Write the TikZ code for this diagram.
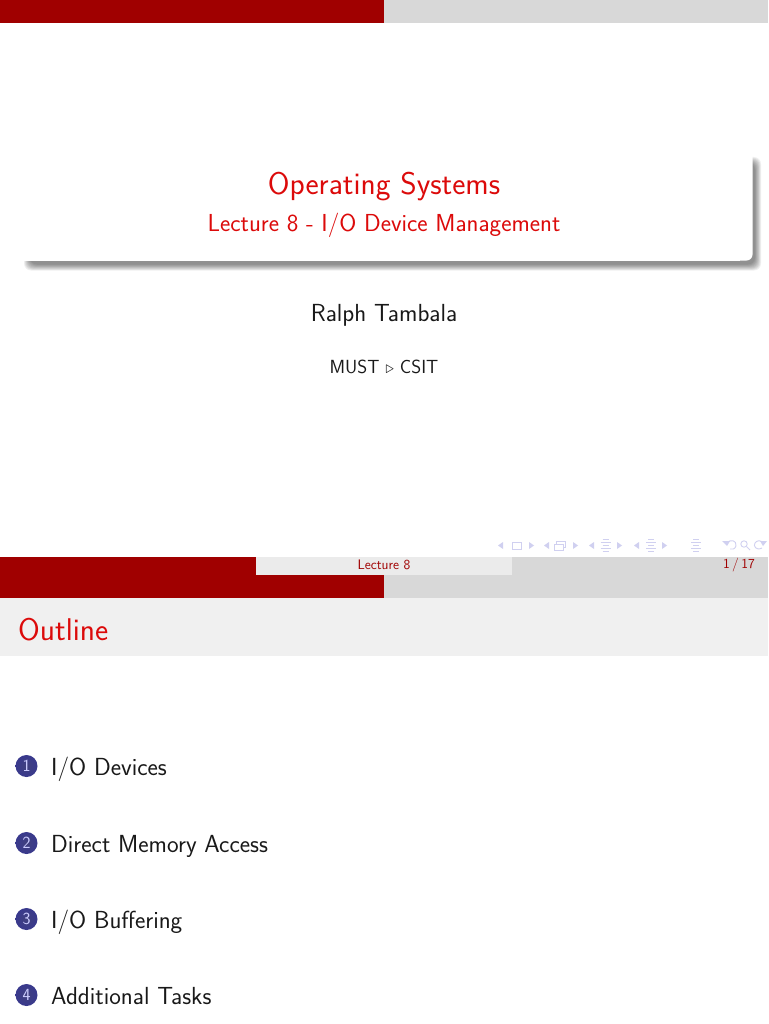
\documentclass[tikz,border=0pt]{standalone}
\usepackage{fontspec}
\definecolor{barred}{HTML}{A00000}
\definecolor{bargray}{HTML}{D8D8D8}
\definecolor{barlight}{HTML}{EBEBEB}
\definecolor{titlegray}{HTML}{F0F0F0}
\definecolor{titlered}{HTML}{DC0A0A}
\definecolor{navc}{HTML}{D0D0F0}
\newcommand{\fs}[1]{\fontsize{#1}{#1}\selectfont\sffamily}
\newcommand{\lines}[2]{%
 \foreach \d/\w in {-6/3,-3/5,0/3,3/5,6/3}{\draw[navc,line width=.9] (#1-\w,#2+\d) -- (#1+\w,#2+\d);}}
\pgfdeclareradialshading{tocball}{\pgfpoint{0bp}{0bp}}{
  color(0bp)=(rgb:red,0.40;green,0.40;blue,0.78);
  color(18bp)=(rgb:red,0.30;green,0.30;blue,0.70);
  color(36bp)=(rgb:red,0.19;green,0.19;blue,0.52);
  color(50bp)=(rgb:red,0.12;green,0.12;blue,0.36);
  color(100bp)=(rgb:red,0.12;green,0.12;blue,0.36)}
\tikzset{
 x=1pt,y=-1pt,
 toc/.style={anchor=base west,inner sep=0pt,text=black!90,font=\fs{24.7}},
 numball/.style={circle,minimum size=22pt,inner sep=0pt,text=white!80!blue,font=\fs{17},
   shading=tocball},
 navline/.style={navc,line width=.9},
}
\begin{document}
\begin{tikzpicture}
\useasboundingbox (0,0) rectangle (768,1024);
\fill[white] (0,0) rectangle (768,1024);
% top bar
\fill[barred] (0,0) rectangle (384,23);
\fill[bargray] (384,0) rectangle (768,23);
% title block shadow
\foreach \o in {6,5.25,4.5,3.75,3,2.25,1.5,0.75,0}{
  \fill[black,opacity=.06,rounded corners=7] (30-\o,163-\o) rectangle (755+\o,264.5+\o);}
\fill[white,rounded corners=6] (0,140) rectangle (752.5,260.5);
\fill[white] (0,140) rectangle (740,260.5);
\node[inner sep=0pt,text=titlered,font=\fs{31.4}] (title) at (384,187) {Operating Systems};
\node[inner sep=0pt,text=titlered,font=\fs{24.6}] (subtitle) at (384,225) {Lecture 8 - I/O Device Management};
\node[inner sep=0pt,text=black!90,font=\fs{24.7}] (author) at (384,315) {Ralph Tambala};
\node[inner sep=0pt,text=black!90,font=\fs{19}] (inst) at (384,367) {MUST $\triangleright$ CSIT};
% nav symbols
\fill[navc] (498,545.5) -- ++(5,-3.5) -- ++(0,7) -- cycle;
\draw[navline] (512,542) rectangle (521,549);
\fill[navc] (534,545.5) -- ++(-5,-3.5) -- ++(0,7) -- cycle;
\fill[navc] (544,545.5) -- ++(5,-3.5) -- ++(0,7) -- cycle;
\draw[navline] (554,544) rectangle (563,550);
\draw[navline] (556,544) -- (556,541.5) -- (565,541.5) -- (565,547.5) -- (563,547.5);
\fill[navc] (578,545.5) -- ++(-5,-3.5) -- ++(0,7) -- cycle;
\fill[navc] (589,545.5) -- ++(5,-3.5) -- ++(0,7) -- cycle;
\lines{605.5}{545.5}
\fill[navc] (622,545.5) -- ++(-5,-3.5) -- ++(0,7) -- cycle;
\fill[navc] (634,545.5) -- ++(5,-3.5) -- ++(0,7) -- cycle;
\lines{651}{545.5}
\fill[navc] (667,545.5) -- ++(-5,-3.5) -- ++(0,7) -- cycle;
\lines{696}{545.5}
\draw[navline] (727,543) .. controls (730,539) and (737,540) .. (736,546) .. controls (735,549) and (732,550) .. (730,549);
\fill[navc] (722,541) -- (730,541) -- (727,546) -- cycle;
\draw[navline] (744,544) circle[radius=3.2];
\draw[navline] (746.5,546.5) -- (750,550);
\draw[navline] (762,548) .. controls (756,551) and (753,546) .. (755,543) .. controls (757,540) and (761,540) .. (763,543);
\fill[navc] (767,541) -- (760,541) -- (763,546) -- cycle;
% footer
\fill[barred] (0,557) rectangle (256,575);
\fill[barlight] (256,557) rectangle (512,575);
\fill[bargray] (512,557) rectangle (768,575);
\fill[barred] (0,575) rectangle (384,598);
\fill[bargray] (384,575) rectangle (768,598);
\node[inner sep=0pt,text=barred,font=\fs{13.8}] (foot) at (384,565) {Lecture 8};
\node[inner sep=0pt,text=barred,font=\fs{13.8}] (page) at (739,565) {1\,/\,17};
% frame title
\fill[titlegray] (0,598) rectangle (768,656);
\node[anchor=base west,inner sep=0pt,text=titlered,font=\fs{31.4}] (outline) at (18,640) {Outline};
% toc
\foreach \n/\y/\t in {1/767/{I/O Devices},2/844/{Direct Memory Access},3/920/{I/O Buffering},4/996/{Additional Tasks}}{
  \node[numball] (b\n) at (26.5,\y-1) {\n};
  \node[toc] (t\n) at (51,\y+8) {\t};
}
\end{tikzpicture}
\end{document}
